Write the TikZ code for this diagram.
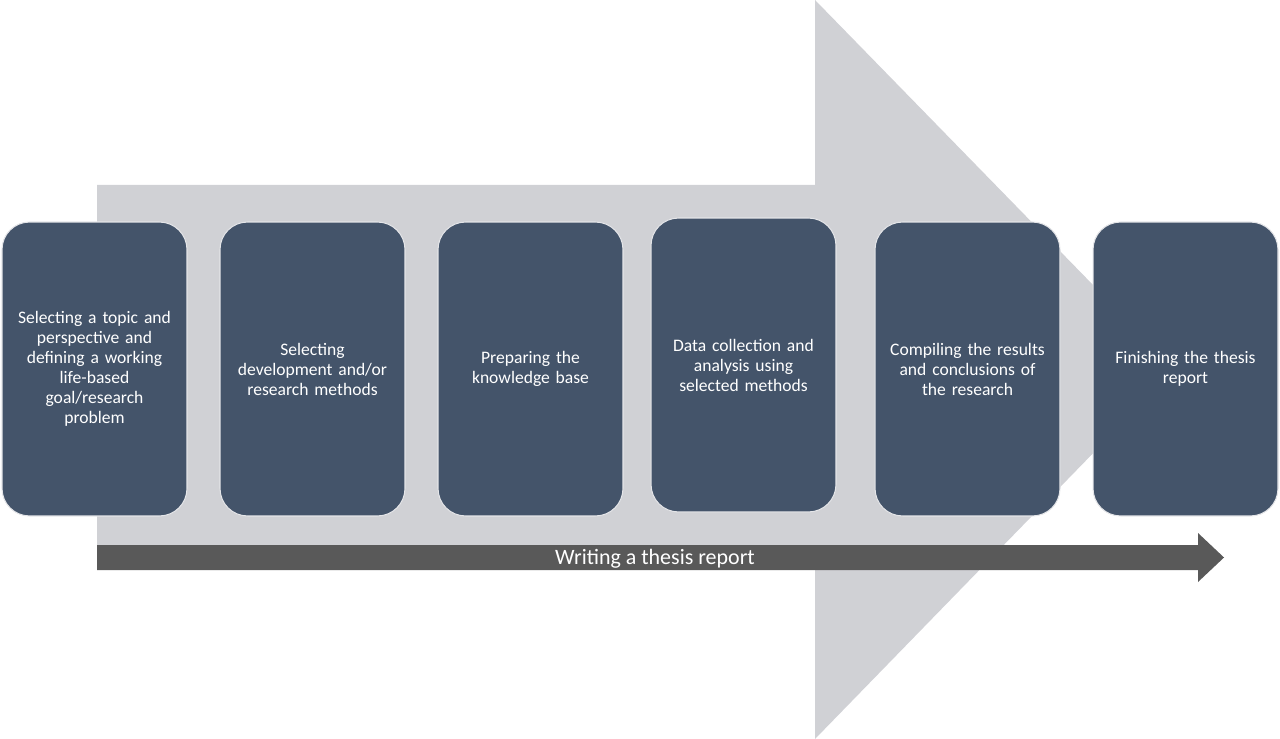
\documentclass[tikz,border=0pt]{standalone}
\usepackage{fontspec}
\setmainfont{Carlito}
\usetikzlibrary{positioning}
\definecolor{StepSlate}{HTML}{44546A}
\definecolor{ShaftGrey}{HTML}{D0D1D5}
\definecolor{TrackInk}{HTML}{595959}
\definecolor{RimLine}{HTML}{E4E5E8}

\begin{document}
\begin{tikzpicture}[x=0.02cm,y=-0.02cm,every node/.style={font=\fontsize{10}{11.4}\selectfont,text=white},stepbox/.style={draw=RimLine,line width=0.6pt,fill=StepSlate,rounded corners=0.55cm,minimum width=3.7cm,minimum height=5.88cm,text width=3.45cm,align=center}]
\useasboundingbox (0,0) rectangle (1280,739);

\fill[ShaftGrey] (97,185) -- (815,185) -- (815,0) -- (1175,369) -- (815,739) -- (815,553) -- (97,553) -- cycle;
\fill[TrackInk] (97,545) -- (1198,545) -- (1198,533) -- (1224,557.5) -- (1198,582) -- (1198,570) -- (97,570) -- cycle;
\node[font=\fontsize{12.5}{14}\selectfont] (track) at (655,558.5) {Writing a thesis report};

\node[stepbox] (topic) at (94.5,369) {Selecting a topic and\\perspective and\\defining a working\\life-based\\goal/research\\problem};
\node[stepbox] (methods) at (312.5,369) {Selecting\\development and/or\\research methods};
\node[stepbox] (knowledge) at (530.5,369) {Preparing the\\knowledge base};
\node[stepbox] (data) at (743.5,365) {Data collection and\\analysis using\\selected methods};
\node[stepbox] (results) at (967.5,369) {Compiling the results\\and conclusions of\\the research};
\node[stepbox] (finish) at (1185.5,369) {Finishing the thesis\\report};

\end{tikzpicture}
\end{document}
